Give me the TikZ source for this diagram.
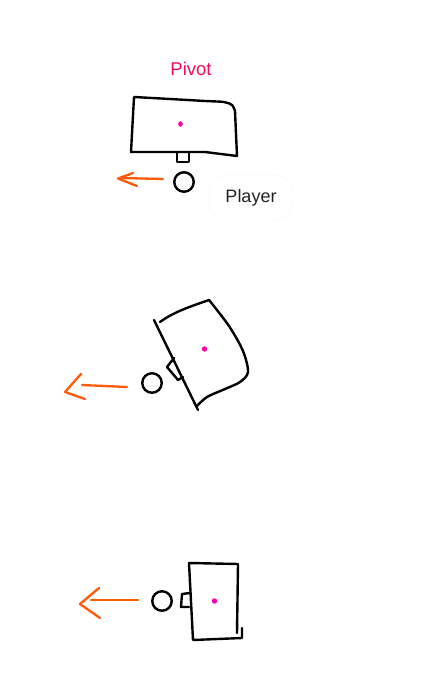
\documentclass[tikz,border=0pt]{standalone}
\usepackage{fontspec}
\setmainfont{Liberation Sans}
\definecolor{pivotpink}{HTML}{F50A5E}
\definecolor{dotpink}{HTML}{FF00A8}
\definecolor{arroworange}{HTML}{FF5A0A}
\definecolor{labelgray}{HTML}{222222}
\begin{document}
\begin{tikzpicture}[x=1pt,y=-1pt,
  ink/.style={line width=2.4pt, line cap=round, line join=round, draw=black},
  orangeink/.style={line width=2.3pt, line cap=round, line join=round, draw=arroworange},
  ball/.style={circle, draw=black, line width=2.4pt, minimum size=19.5pt, inner sep=0pt},
  pivotdot/.style={fill=dotpink},
  bubble/.style={draw=black!3, fill=white, rounded corners=20pt, minimum width=85pt, minimum height=46pt, text=labelgray, font=\fontsize{18}{20}\selectfont},
  pivotlabel/.style={text=pivotpink, font=\fontsize{18.5}{20}\selectfont}]
\useasboundingbox (0,0) rectangle (420,700);
\fill[white] (0,0) rectangle (420,700);

% ---------- figure 1 ----------
\node[pivotlabel] (pivot) at (191,69) {Pivot};
\draw[ink] plot[smooth,tension=0.45] coordinates {(134,97) (170,99) (205,101) (224,102) (232,105) (235,111)} -- (237,156) -- (205,152) -- (131,152) -- cycle;
\draw[ink] (177,153) -- (177,162) -- (189,162) -- (189,153);
\fill[pivotdot] (180.5,124) ellipse (2.3pt and 2.8pt);
\node[ball] (p1) at (184,182) {};
\coordinate (a1s) at (163,179);
\coordinate (a1e) at (120,178);
\draw[orangeink] (a1s) -- (a1e);
\draw[orangeink] (133,173) -- (118,178.5) -- (137,186);
\node[bubble] (player) at (251,198) {Player};

% ---------- figure 2 ----------
\draw[ink] (154,320) -- (198,410);
\draw[ink] (160,322) .. controls (175,311) and (195,305) .. (209,300);
\draw[ink] plot[smooth,tension=0.5] coordinates {(209,300) (229,326) (243,351) (248,372) (240,382) (225,389) (207,397) (197,406)};
\draw[ink] (174,358) -- (167,367) -- (178,380) -- (183,377);
\fill[pivotdot] (204.5,349) ellipse (2.7pt and 2.7pt);
\node[ball] (p2) at (152,383) {};
\coordinate (a2s) at (127,387);
\coordinate (a2e) at (82,385);
\draw[orangeink] (a2s) -- (a2e);
\draw[orangeink] (81,374) -- (65,392) -- (85,399);

% ---------- figure 3 ----------
\draw[ink] (237,633) -- (238,564) -- (189,563) -- (193,640) -- (242,638) -- (242,628);
\draw[ink] (190,593) -- (182,594) -- (181,607) -- (189,607);
\fill[pivotdot] (214.5,601) ellipse (2.7pt and 2.7pt);
\node[ball] (p3) at (162,601) {};
\coordinate (a3s) at (138,600);
\coordinate (a3e) at (91,600);
\draw[orangeink] (a3s) -- (a3e);
\draw[orangeink] (99,588) -- (80,604) -- (100,618);
\end{tikzpicture}
\end{document}
